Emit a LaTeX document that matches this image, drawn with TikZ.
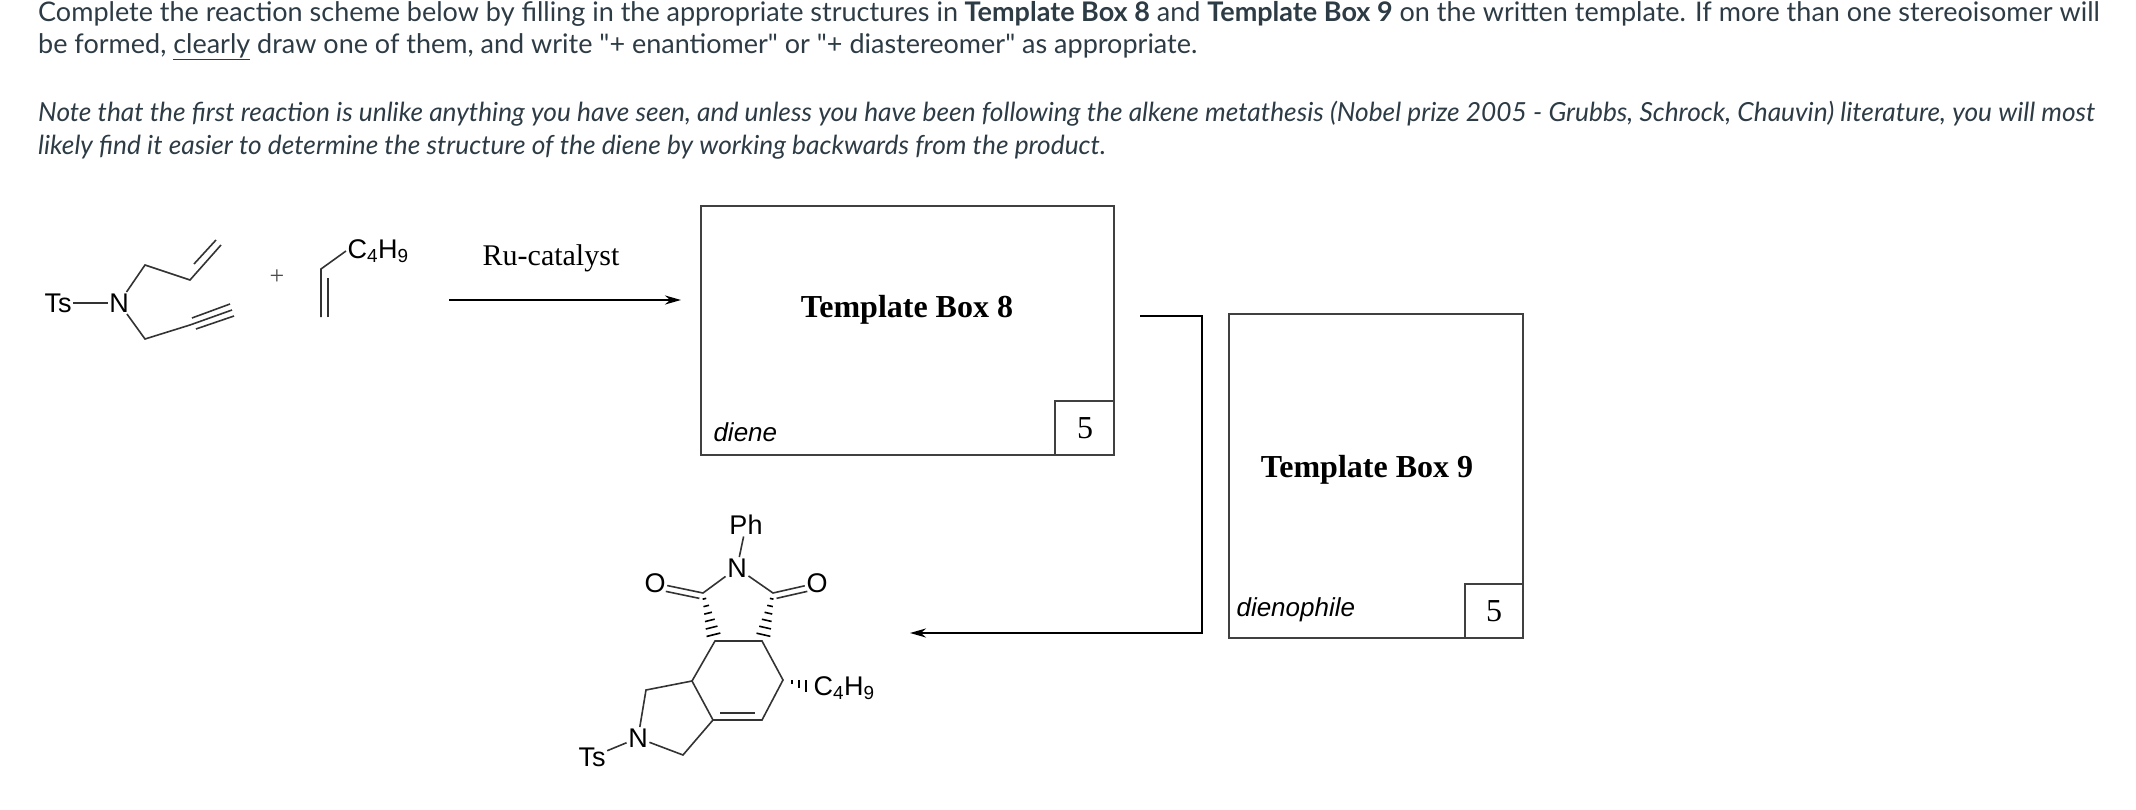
\documentclass[tikz,border=0pt]{standalone}
\usepackage{fontspec}
\setmainfont{Lato}[Ligatures=TeXOff]
\newfontfamily\arial{Liberation Sans}
\newfontfamily\tnr{Liberation Serif}
\usetikzlibrary{calc,arrows.meta}
\definecolor{txt}{HTML}{2D3B45}
\tikzset{
 bond/.style={line width=1.6pt,draw=black!80},
 atom/.style={font=\arial\fontsize{27}{30}\selectfont,inner sep=1.5pt},
 boxln/.style={draw=black!75,line width=2pt},
 rxn/.style={line width=2.2pt,-{Stealth[length=16pt,width=9pt]}},
 hdr/.style={anchor=west,font=\fontsize{27}{30}\selectfont,text=txt,inner sep=0pt},
 hdri/.style={anchor=west,font=\itshape\fontsize{26.3}{30}\selectfont,text=txt,inner sep=0pt},
}
\newcommand{\hashb}[2]{%
 \foreach \t in {0.12,0.27,0.42,0.57,0.72,0.87}{%
  \pgfmathsetmacro{\w}{1+\t*7}
  \path (#1) -- (#2) coordinate[pos=\t] (hh);
  \draw[line width=1.6pt] ($(hh)!\w pt!90:(#2)$) -- ($(hh)!\w pt!-90:(#2)$);}}
\begin{document}
\begin{tikzpicture}[x=1pt,y=-1pt]
\useasboundingbox (0,0) rectangle (2136,810);
% header
\node[hdr] (h1) at (38,14) {Complete the reaction scheme below by filling in the appropriate structures in \textbf{Template Box 8} and \textbf{Template Box 9} on the written template. If more than one stereoisomer will};
\node[hdr] (h2) at (38,47) {be formed, \underline{clearly} draw one of them, and write "+ enantiomer" or "+ diastereomer" as appropriate.};
\node[hdri] (h3) at (38,114) {Note that the first reaction is unlike anything you have seen, and unless you have been following the alkene metathesis (Nobel prize 2005 - Grubbs, Schrock, Chauvin) literature, you will most};
\node[hdri] (h4) at (38,147) {likely find it easier to determine the structure of the diene by working backwards from the product.};
% left reactant
\node[atom] (ts1) at (58,303) {Ts};
\node[atom] (n1) at (119,303) {N};
\coordinate (a1) at (145,265); \coordinate (a2) at (190,280); \coordinate (a3) at (221,245);
\coordinate (b1) at (145,339); \coordinate (b2) at (190,325); \coordinate (b3) at (232,310);
\draw[bond] (ts1) -- (n1);
\draw[bond] (n1) -- (a1) -- (a2) -- (a3);
\coordinate (a4) at (194,264); \coordinate (a5) at (216,240);
\draw[bond] (a4) -- (a5);
\draw[bond] (n1) -- (b1) -- (b2) -- (b3);
\coordinate (b4) at (196,329); \coordinate (b5) at (234,316);
\coordinate (b6) at (192,318); \coordinate (b7) at (230,304);
\draw[bond] (b4) -- (b5);
\draw[bond] (b6) -- (b7);
\node[font=\tnr\fontsize{26}{28}\selectfont,text=black!70] (plus) at (277,277) {+};
% hexene
\coordinate (e1) at (321,317); \coordinate (e2) at (321,269);
\node[atom,anchor=west] (c4a) at (346,251) {C\textsubscript{4}H\textsubscript{9}};
\draw[bond] (e1) -- (e2) -- (c4a.west);
\coordinate (e3) at (328,317); \coordinate (e4) at (328,278);
\draw[bond] (e3) -- (e4);
% arrow 1
\node[font=\tnr\fontsize{30}{32}\selectfont] (ru) at (551,258) {Ru-catalyst};
\coordinate (r1) at (449,300); \coordinate (r2) at (681,300);
\draw[rxn] (r1) -- (r2);
% box 8
\draw[boxln] (701,206) rectangle (1114,455);
\draw[boxln] (1055,401) rectangle (1114,455);
\node[font=\tnr\bfseries\fontsize{32}{34}\selectfont] (t8) at (907,310) {Template Box 8};
\node[font=\arial\itshape\fontsize{26}{28}\selectfont,anchor=west] (d8) at (710,432) {diene};
\node[font=\tnr\fontsize{32}{34}\selectfont] (f8) at (1085,428) {5};
% box 9
\draw[boxln] (1229,314) rectangle (1523,638);
\draw[boxln] (1465,584) rectangle (1523,638);
\node[font=\tnr\bfseries\fontsize{32}{34}\selectfont] (t9) at (1367,470) {Template Box 9};
\node[font=\arial\itshape\fontsize{26}{28}\selectfont,anchor=west] (d9) at (1233,610) {dienophile};
\node[font=\tnr\fontsize{32}{34}\selectfont] (f9) at (1494,611) {5};
% connector
\coordinate (k1) at (1140,316); \coordinate (k2) at (1202,316); \coordinate (k3) at (1202,633); \coordinate (k4) at (910,633);
\draw[line width=2.2pt,-{Stealth[length=16pt,width=9pt]}] (k1) -- (k2) -- (k3) -- (k4);
% product
\node[atom] (ph) at (746,525) {Ph};
\node[atom] (n2) at (737,568) {N};
\node[atom] (ol) at (655,583) {O};
\node[atom] (or) at (817,583) {O};
\coordinate (cl) at (703,593); \coordinate (cr) at (773,593);
\coordinate (tl) at (715,641); \coordinate (tr) at (762,641);
\coordinate (rr) at (783,680); \coordinate (br) at (762,720);
\coordinate (bl) at (713,720); \coordinate (ll) at (692,681);
\coordinate (ca) at (646,690); \coordinate (cb) at (683,755);
\node[atom] (n3) at (638,738) {N};
\node[atom] (ts2) at (592,757) {Ts};
\node[atom,anchor=west] (c4b) at (812,688) {C\textsubscript{4}H\textsubscript{9}};
\draw[bond] (ph) -- (n2);
\draw[bond] (n2) -- (cl) -- (ol);
\draw[bond] ($(cl)!0.05!(ol)!6pt!90:(ol)$) -- ($(cl)!0.75!(ol)!6pt!90:(ol)$);
\draw[bond] (n2) -- (cr) -- (or);
\draw[bond] ($(cr)!0.05!(or)!6pt!-90:(or)$) -- ($(cr)!0.75!(or)!6pt!-90:(or)$);
\hashb{cl}{tl}
\hashb{cr}{tr}
\draw[bond] (tl) -- (tr) -- (rr) -- (br) -- (bl) -- (ll) -- cycle;
\draw[bond] ($(bl)!0.15!(br)+(0,-7)$) -- ($(bl)!0.85!(br)+(0,-7)$);
\draw[bond] (ll) -- (ca) -- (n3) -- (cb) -- (bl);
\draw[bond] (n3) -- (ts2);
\foreach \t/\w in {0.3/2,0.55/4,0.8/6}{
  \path (rr) -- (c4b.west) coordinate[pos=\t] (hq);
  \draw[line width=1.6pt] ($(hq)+(0,-\w)$) -- ($(hq)+(0,\w)$);}
\end{tikzpicture}
\end{document}
